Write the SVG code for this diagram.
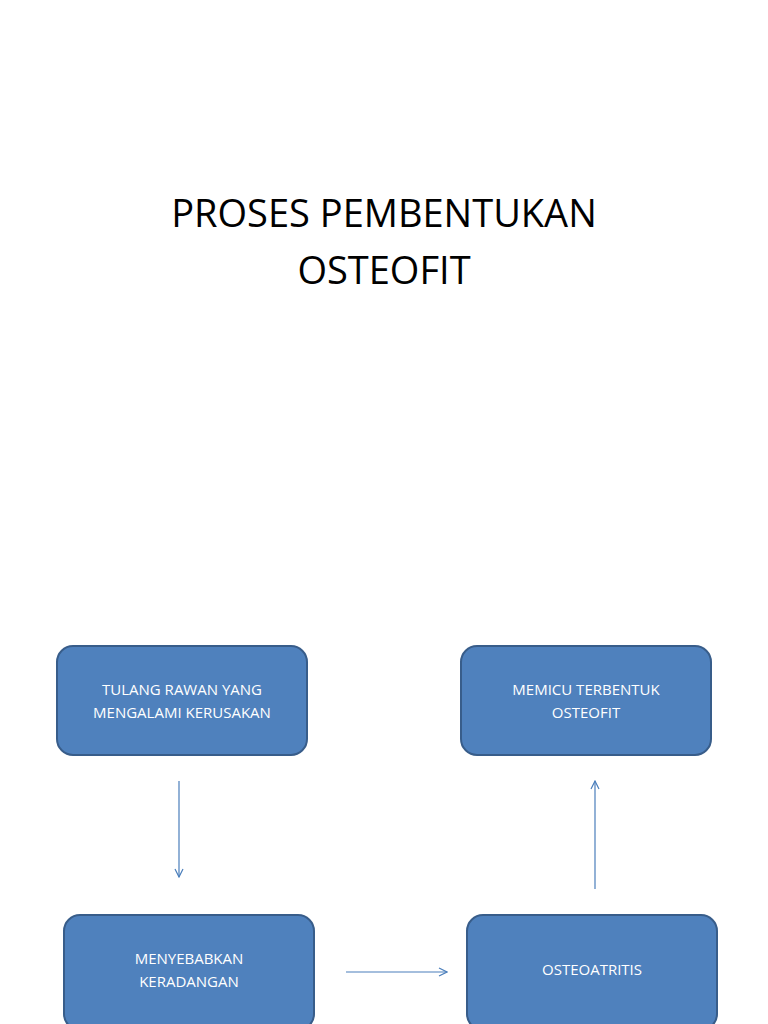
<svg xmlns="http://www.w3.org/2000/svg" width="768" height="1024" viewBox="0 0 768 1024">
<style>
.box{fill:#4F81BD;stroke:#385D8A;stroke-width:2}
.lbl{font-family:"Open Sans","Liberation Sans",sans-serif;font-size:15px;fill:#fff;text-anchor:middle}
.ttl{font-family:"Open Sans","Liberation Sans",sans-serif;font-size:38px;fill:#000;text-anchor:middle}
.c{stroke:#4A7EBB;stroke-width:1.2;fill:none;marker-end:url(#a)}
</style>
<defs><marker id="a" markerWidth="10" markerHeight="10" refX="9" refY="5" orient="auto" markerUnits="userSpaceOnUse"><path d="M1,1 L9,5 L1,9" fill="none" stroke="#4A7EBB" stroke-width="1.2"/></marker></defs>
<rect width="768" height="1024" fill="#fff"/>
<text class="ttl" x="384" y="227">PROSES PEMBENTUKAN</text>
<text class="ttl" x="384" y="284">OSTEOFIT</text>
<g id="n1"><rect class="box" x="57" y="646" width="250" height="109" rx="16"/><text class="lbl" x="182" y="695">TULANG RAWAN YANG</text><text class="lbl" x="182" y="718">MENGALAMI KERUSAKAN</text></g>
<g id="n2"><rect class="box" x="461" y="646" width="250" height="109" rx="16"/><text class="lbl" x="586" y="695">MEMICU TERBENTUK</text><text class="lbl" x="586" y="718">OSTEOFIT</text></g>
<g id="n3"><rect class="box" x="64" y="915" width="250" height="115" rx="16"/><text class="lbl" x="189" y="964">MENYEBABKAN</text><text class="lbl" x="189" y="987">KERADANGAN</text></g>
<g id="n4"><rect class="box" x="467" y="915" width="250" height="115" rx="16"/><text class="lbl" x="592" y="975">OSTEOATRITIS</text></g>
<g id="connectors">
<line class="c" x1="179" y1="781" x2="179" y2="877"/>
<line class="c" x1="346" y1="972" x2="447" y2="972"/>
<line class="c" x1="595" y1="889" x2="595" y2="781"/>
</g>
</svg>
